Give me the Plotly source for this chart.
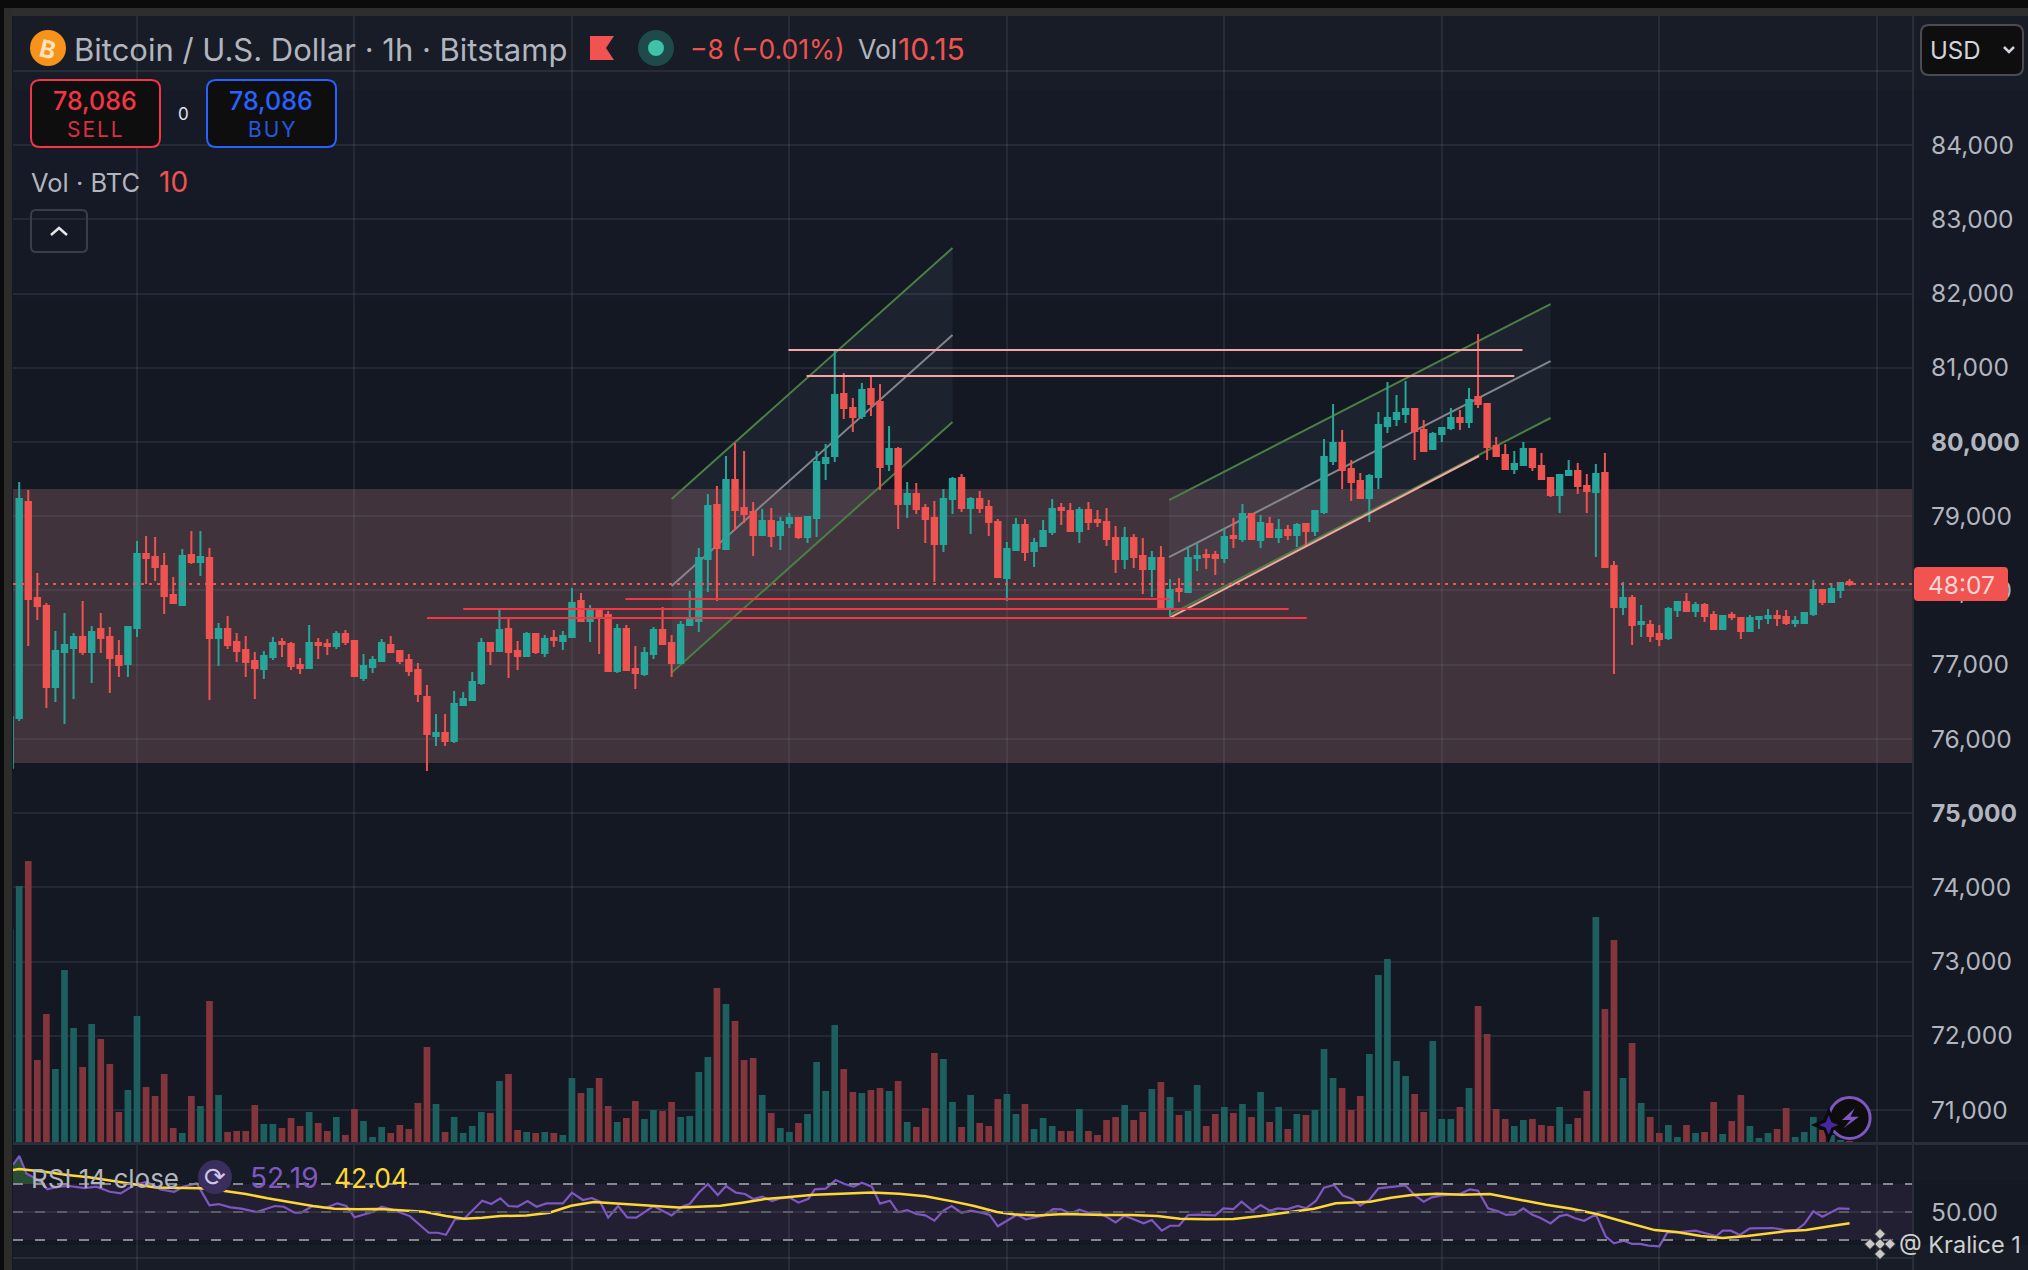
import plotly.graph_objects as go

W = 2028
H = 1270

# hourly candles, first one is cut off by the left edge
bars = list(range(-1, 203))
opens = [
    75612, 76281, 79191, 77898, 77790, 76699, 77170, 77224, 77372, 77170, 77480, 77372, 77117, 77009, 77494,
    78491, 78450, 78329, 77938, 77804, 78477, 78383, 78437, 77359, 77480, 77305, 77197, 77049, 76941, 77103,
    77305, 77278, 76995, 76955, 77292, 77278, 77251, 77413, 77319, 76820, 76968, 77049, 77265, 77184, 77063,
    76928, 76564, 76039, 76079, 75972, 76457, 76524, 76753, 77292, 77184, 77480, 77184, 77117, 77413, 77157,
    77359, 77319, 77373, 77857, 77588, 77723, 77669, 76915, 77480, 76941, 76874, 77144, 77467, 77292, 77022,
    77534, 77588, 78423, 79151, 78558, 79487, 79110, 79056, 78747, 78935, 78747, 78908, 78975, 78720, 78975,
    79716, 79811, 80646, 80457, 80350, 80713, 80538, 79703, 79905, 79164, 79299, 79110, 78976, 78625, 79231,
    79514, 79110, 79231, 79124, 78922, 78167, 78544, 78881, 78531, 78598, 78787, 79110, 79070, 78800, 79083,
    78949, 78922, 78706, 78423, 78706, 78464, 78289, 78437, 77777, 78019, 77979, 78437, 78477, 78477, 78437,
    78733, 78693, 79029, 78679, 78895, 78720, 78814, 78747, 78895, 78800, 79056, 79743, 79986, 79636, 79474,
    79245, 79528, 80215, 80309, 80376, 80444, 80161, 79905, 80107, 80188, 80323, 80269, 80605, 80511, 79945,
    79825, 79636, 79690, 79905, 79676, 79515, 79286, 79555, 79609, 79407, 79326, 79582, 78329, 77777, 77898,
    77548, 77535, 77413, 77360, 77737, 77844, 77723, 77804, 77669, 77481, 77669, 77629, 77454, 77615, 77629,
    77656, 77642, 77562, 77562, 77683, 78006, 77844, 78006, 78114,
]
highs = [
    76295, 79460, 79353, 78235, 77830, 77453, 77696, 77426, 77857, 77521, 77696, 77507, 77332, 77521, 78666,
    78733, 78720, 78504, 78181, 78558, 78800, 78800, 78571, 77561, 77655, 77426, 77386, 77170, 77184, 77372,
    77359, 77305, 77090, 77534, 77359, 77346, 77453, 77467, 77319, 77144, 77117, 77346, 77386, 77197, 77144,
    77022, 76726, 76335, 76335, 76645, 76632, 76901, 77359, 77292, 77750, 77628, 77319, 77440, 77426, 77399,
    77467, 77453, 78033, 77965, 77804, 77736, 77723, 77548, 77534, 77251, 77238, 77507, 77777, 77399, 77588,
    77992, 78571, 79299, 79407, 79811, 79986, 79878, 79191, 79097, 79110, 78989, 79043, 78989, 79002, 79878,
    79972, 81252, 80929, 80592, 80794, 80888, 80780, 80215, 79932, 79460, 79447, 79164, 79205, 79366, 79528,
    79568, 79258, 79339, 79218, 78962, 78652, 78976, 78962, 78706, 78949, 79231, 79178, 79178, 79124, 79191,
    79083, 79110, 78868, 78854, 78760, 78706, 78531, 78598, 78154, 78167, 78598, 78639, 78558, 78531, 78827,
    78976, 79164, 79029, 79016, 78989, 78962, 78881, 78908, 78895, 79083, 80041, 80511, 80161, 79757, 79582,
    79568, 80403, 80807, 80632, 80821, 80444, 80296, 80134, 80201, 80457, 80430, 80727, 81454, 80511, 80067,
    79973, 79878, 80000, 79905, 79851, 79515, 79569, 79757, 79717, 79569, 79703, 79851, 78397, 78114, 77939,
    77804, 77602, 77535, 77777, 77844, 77966, 77844, 77831, 77723, 77669, 77710, 77642, 77669, 77642, 77750,
    77737, 77737, 77656, 77710, 78141, 78006, 78100, 78100, 78154,
]
lows = [
    75612, 76241, 77251, 77601, 76416, 76497, 76201, 76537, 77130, 76753, 77157, 76618, 76834, 76834, 77372,
    78086, 78127, 77682, 77817, 77804, 78356, 78194, 76524, 76982, 77211, 77036, 76834, 76537, 76807, 77063,
    77103, 76928, 76874, 76941, 77076, 77130, 77211, 77265, 76834, 76780, 76888, 77036, 77157, 77009, 76847,
    76497, 75568, 75904, 75904, 75945, 76457, 76524, 76726, 76995, 77184, 76820, 76928, 77117, 77144, 77103,
    77238, 77197, 77373, 77575, 77305, 77144, 76915, 76888, 76928, 76672, 76847, 77076, 77278, 76834, 77022,
    77521, 77440, 77979, 77858, 78558, 78814, 78908, 78464, 78733, 78585, 78544, 78841, 78693, 78639, 78720,
    79487, 79730, 80309, 80134, 80309, 80350, 79353, 79609, 78827, 78976, 79029, 78639, 78114, 78518, 79029,
    79056, 78760, 79043, 78733, 78181, 77858, 78544, 78396, 78316, 78598, 78747, 78881, 78787, 78639, 78814,
    78854, 78598, 78235, 78289, 78302, 77952, 77911, 77777, 77629, 77844, 77979, 78262, 78289, 78208, 78369,
    78571, 78652, 78693, 78571, 78720, 78639, 78679, 78585, 78598, 78733, 79029, 79689, 79366, 79205, 79245,
    78922, 79366, 80120, 80215, 80255, 79757, 79878, 79905, 80000, 80161, 80161, 80188, 80457, 79757, 79797,
    79622, 79569, 79690, 79609, 79488, 79259, 79043, 79555, 79299, 79043, 78451, 78302, 76875, 77669, 77265,
    77373, 77306, 77252, 77333, 77642, 77723, 77642, 77575, 77481, 77481, 77602, 77346, 77440, 77481, 77548,
    77521, 77535, 77508, 77562, 77656, 77804, 77844, 77898, 78060,
]
closes = [
    76295, 79231, 77884, 77790, 76699, 77184, 77265, 77372, 77170, 77440, 77359, 77090, 76995, 77507, 78491,
    78437, 78315, 77925, 77830, 78464, 78383, 78450, 77359, 77480, 77265, 77184, 77036, 76955, 77117, 77292,
    77278, 76982, 76955, 77292, 77265, 77251, 77413, 77305, 76847, 76982, 77063, 77292, 77170, 77049, 76915,
    76605, 76066, 76079, 75972, 76470, 76537, 76766, 77292, 77184, 77467, 77170, 77117, 77413, 77171, 77346,
    77332, 77386, 77831, 77588, 77723, 77642, 76915, 77480, 76928, 76888, 77157, 77467, 77278, 77022, 77534,
    77602, 78437, 79137, 78571, 79487, 79083, 79029, 78747, 78935, 78733, 78922, 78975, 78720, 78989, 79730,
    79784, 80632, 80457, 80336, 80700, 80511, 79663, 79905, 79164, 79299, 79097, 78962, 78625, 79231, 79501,
    79110, 79231, 79110, 78922, 78181, 78558, 78881, 78518, 78639, 78800, 79097, 79083, 78800, 79083, 78922,
    78922, 78693, 78423, 78706, 78450, 78289, 78437, 77777, 78006, 77992, 78437, 78464, 78450, 78437, 78720,
    78706, 79029, 78693, 78908, 78720, 78814, 78747, 78881, 78800, 79070, 79797, 79986, 79622, 79460, 79245,
    79541, 80228, 80323, 80390, 80444, 80147, 79878, 80107, 80188, 80323, 80269, 80565, 80511, 79932, 79811,
    79636, 79703, 79905, 79663, 79501, 79286, 79555, 79609, 79407, 79340, 79569, 78316, 77777, 77898, 77535,
    77575, 77386, 77346, 77750, 77844, 77723, 77804, 77656, 77481, 77656, 77642, 77454, 77629, 77642, 77656,
    77629, 77562, 77589, 77696, 78006, 77844, 78020, 78100, 78087,
]
volumes = [
    639, 768, 843, 246, 384, 219, 516, 342, 225, 354, 309, 234, 90, 156, 378,
    165, 138, 204, 42, 27, 138, 108, 423, 141, 30, 33, 33, 111, 54, 54,
    42, 72, 48, 90, 57, 33, 75, 21, 99, 63, 15, 45, 27, 51, 39,
    117, 285, 114, 30, 75, 27, 48, 90, 87, 183, 204, 36, 30, 27, 30,
    27, 21, 192, 147, 162, 192, 108, 60, 72, 123, 69, 96, 93, 120, 75,
    78, 210, 255, 462, 414, 363, 246, 252, 141, 87, 42, 30, 57, 84, 240,
    153, 351, 219, 150, 147, 156, 162, 153, 183, 60, 45, 102, 267, 249, 120,
    45, 141, 57, 48, 129, 144, 84, 114, 39, 72, 48, 33, 33, 99, 33,
    21, 66, 75, 111, 66, 90, 159, 180, 135, 81, 93, 171, 48, 84, 105,
    87, 114, 75, 150, 60, 105, 39, 84, 81, 96, 279, 192, 162, 96, 138,
    264, 501, 549, 243, 198, 144, 90, 303, 69, 69, 105, 162, 408, 324, 99,
    69, 48, 66, 69, 51, 48, 105, 54, 72, 153, 675, 399, 606, 192, 297,
    117, 75, 27, 51, 15, 51, 27, 30, 120, 24, 63, 141, 48, 12, 27,
    39, 102, 15, 30, 75, 36, 21, 6, 3,
]

rsi_x = [
    -0.7, 0, 0.8, 2.1, 3.1, 4.3, 5.5, 7.2, 8.5, 10, 11.2, 12.7, 14.1, 15.6, 17.1, 18.1, 19.6, 21, 22, 23.3,
    24.5, 26.2, 28.2, 29.2, 30.4, 31.1, 32.4, 33.8, 35.1, 36.1, 37, 39, 40, 41.5, 43.1, 45.2, 46.2, 47.1, 48.1, 49.1,
    51.1, 52.1, 53.1, 54, 55, 56.1, 57.1, 58.2, 60, 61, 62.2, 63.2, 64.1, 65, 66.1, 67.1, 68.1, 70, 72, 73.3,
    74, 75, 76, 77.1, 78, 79.1, 80.1, 81, 82, 83.1, 84, 85, 86, 87.1, 87.8, 89, 90.1, 91.1, 92.1, 93,
    94.1, 95, 96.1, 97, 98, 99, 100, 101, 102, 102.9, 104, 105, 106.2, 107.1, 108, 109.1, 110.1, 111.1, 112.1, 113.1,
    114.1, 115, 116, 117, 118, 119.1, 120.1, 121, 122, 123.1, 124.1, 125, 126.1, 127, 128, 129, 130.1, 132, 132.9, 134,
    134.9, 136.1, 137, 138, 138.9, 139.9, 141.1, 142, 143.1, 144, 145.1, 146.1, 147.1, 148, 149, 150, 150.9, 153, 154, 155,
    155.9, 157, 159, 160.1, 161, 162.1, 163.2, 164.1, 165, 166, 167, 167.9, 169, 170, 170.8, 171.7, 172.7, 174, 175.1, 176,
    177.1, 178, 178.9, 179.8, 181, 181.9, 182.9, 185, 186.1, 187.3, 188, 188.9, 189.9, 191, 193.5, 194.9, 196.1, 197, 198, 199,
    200.8, 202,
]
rsi_values = [
    83.6, 90, 77.6, 72.8, 66.2, 68.1, 68.6, 67.1, 68.1, 64.5, 63.3, 69.3, 71.7, 66.2, 64.5, 68.1, 70.5, 54.8, 55.7, 53.3,
    52.4, 50, 54.3, 53.8, 49.5, 49.5, 54.3, 52.9, 56.2, 54.3, 46.2, 50, 53.8, 51, 47.1, 35.2, 35.2, 33.8, 44.8, 45.2,
    58.1, 55.7, 59.8, 54.3, 53.8, 57.9, 53.8, 56.2, 56.2, 63.8, 58.6, 60, 57.4, 46, 54.3, 46.2, 46, 54.3, 47.6, 54.3,
    55.7, 63.8, 70, 62.1, 68.6, 63.8, 62.9, 59.3, 60.9, 57.9, 59.8, 60.5, 56.7, 59.5, 66.2, 66.7, 72.8, 70, 68.1, 70.9,
    68.1, 56, 58.1, 49.8, 51.4, 48.6, 47.6, 43.8, 51, 54.3, 49.5, 51, 49.5, 47.9, 39.8, 44.3, 48.1, 44.8, 46.2, 47.6,
    52.1, 51.9, 49, 51.7, 49.5, 49.5, 46.2, 42.6, 47.4, 44.3, 41.9, 44.3, 36.7, 40.2, 40.2, 47.9, 48.1, 47.6, 52.6, 52.1,
    57.4, 51, 55, 51, 52.6, 51.9, 54.3, 52.6, 57.9, 67.4, 69.3, 61.7, 59.3, 54.5, 58.6, 66.9, 67.6, 69, 62.1, 57.4,
    60.5, 61.9, 62.9, 66.2, 65.2, 52.6, 50.5, 47.9, 48.3, 52.6, 48.1, 45.7, 41.9, 47.1, 48.1, 45.5, 43.8, 48.3, 32.4, 27.6,
    29.5, 27.2, 27.2, 26, 25.5, 35.5, 35.5, 36.7, 34.8, 32.9, 36.7, 36.7, 33.6, 38.3, 38.6, 37.1, 37.1, 41.4, 50.5, 46.7,
    52.6, 52.19,
]
rsi_ma_x = [
    -0.7, 0, 2.8, 5.3, 7.7, 10.2, 12.7, 15.1, 17.6, 20, 22.5, 25, 27.4, 29.9, 32.4, 34.8, 37.3, 39.8, 42.2, 44.7,
    47.1, 49.1, 51.1, 53.1, 56, 58.5, 60.9, 63.4, 66.8, 69.8, 72.8, 74.9, 77.4, 79.8, 82.3, 84.7, 87.7, 90.7, 94.1, 97.1,
    100, 103, 105.4, 107.9, 109.9, 112.3, 115.3, 119.7, 122.7, 125.6, 128.1, 131, 134, 137, 140.4, 142.9, 145.3, 147.3, 149.1, 151.4,
    153.7, 156.5, 159.2, 162.3, 164.8, 168.5, 171.3, 174.1, 176.8, 180.5, 182.9, 185.6, 188, 190.7, 194.9, 197.2, 200, 202,
]
rsi_ma_values = [
    80, 80.7, 78.8, 76.4, 74.8, 72.1, 69.8, 67.6, 67.1, 66.9, 65.2, 62.9, 59.8, 56.9, 54.3, 52.4, 51.9, 52.1, 51.4, 50.2,
    47.1, 45.2, 46, 47.1, 47.6, 49.5, 54.5, 57.1, 55.7, 54.3, 53.3, 53.8, 54.5, 56.7, 59.3, 60.5, 62.4, 63.1, 64, 63.1,
    61.2, 57.6, 54.3, 50, 48.3, 47.6, 48.6, 47.9, 47.9, 47.1, 45.2, 44.8, 45, 47.1, 50.2, 52.4, 56.2, 56.9, 57.4, 60.2,
    62.1, 63.1, 62.4, 62.9, 59.8, 55.2, 52.4, 48.6, 43.6, 37.1, 35.7, 32.9, 31.4, 32.9, 36.2, 37.1, 40, 42.04,
]

# drawings on the chart, in bars and dollars
zone_top = 79366
zone_bottom = 75675
last_price = 78086

channel_a_x = [72, 103]
channel_a_upper = [79232, 82613]
channel_a_mid = [78060, 81441]
channel_a_lower = [76892, 80269]
channel_b_x = [126.9, 169]
channel_b_upper = [79218, 81858]
channel_b_mid = [78450, 81090]
channel_b_lower = [77669, 80323]
trend_x = [127.1, 161.1]
trend_y = [77642, 79811]

pink_levels = [(81239, 84.9, 165.9), (80888, 86.9, 165)]
red_levels = [(77885, 66.9, 127), (77750, 49, 140.1), (77629, 45, 142.1)]

price_ticks = list(range(71000, 86000, 1000))
price_labels = ["" if p == 85000 else ("<b>%s</b>" % f"{p:,}" if p in (75000, 80000) else f"{p:,}") for p in price_ticks]
grid_bars = [13, 37, 61, 85, 109, 133, 157, 181, 205]

UP = "#26a69a"
DOWN = "#ef5350"
UP_VOL = "#1d5f5e"
DOWN_VOL = "#82353b"
BG = "#131823"
GRID = "rgba(125,130,145,0.16)"
LABEL = "#b2b5be"
SANS = "Inter"


def fx(px):
    return px / W


def fy(py):
    return 1 - py / H


def round_rect(x0, y0, x1, y1, r):
    a, b, c, d = fx(x0), fx(x1), fy(y0), fy(y1)
    rx, ry = r / W, r / H
    return (f"M {a+rx} {c} L {b-rx} {c} Q {b} {c} {b} {c-ry} L {b} {d+ry} Q {b} {d} {b-rx} {d} "
            f"L {a+rx} {d} Q {a} {d} {a} {d+ry} L {a} {c-ry} Q {a} {c} {a+rx} {c} Z")


def poly(points, close=True):
    s = "M " + " L ".join(f"{fx(x)} {fy(y)}" for x, y in points)
    return s + " Z" if close else s


shapes = []
notes = []


def paper_path(path, fill="rgba(0,0,0,0)", line="rgba(0,0,0,0)", width=0, layer="above"):
    shapes.append(dict(type="path", xref="paper", yref="paper", path=path, fillcolor=fill,
                       line=dict(color=line, width=width), layer=layer))


def paper_rect(x0, y0, x1, y1, fill, layer="above"):
    shapes.append(dict(type="rect", xref="paper", yref="paper", x0=fx(x0), x1=fx(x1), y0=fy(y1), y1=fy(y0),
                       fillcolor=fill, line=dict(width=0), layer=layer))


def paper_circle(cx, cy, r, fill, line="rgba(0,0,0,0)", width=0):
    shapes.append(dict(type="circle", xref="paper", yref="paper", x0=fx(cx-r), x1=fx(cx+r), y0=fy(cy+r), y1=fy(cy-r),
                       fillcolor=fill, line=dict(color=line, width=width), layer="above"))


def note(px, py, text, size, color, anchor="left", family=SANS, angle=0, weight=400):
    notes.append(dict(x=fx(px), y=fy(py), xref="paper", yref="paper", text=text, showarrow=False, xanchor=anchor,
                      yanchor="middle", textangle=angle, borderpad=0,
                      font=dict(family=family, size=size, color=color, weight=weight)))


def data_line(x0, x1, y0, y1, color, width, layer="above", yref="y", dash=None, xref="x"):
    shapes.append(dict(type="line", xref=xref, yref=yref, x0=x0, x1=x1, y0=y0, y1=y1, layer=layer,
                       line=dict(color=color, width=width, dash=dash)))


# background shading, the top of the chart is a bit lighter
paper_rect(13, 16, 2028, 90, "#171c27", layer="below")
paper_rect(13, 90, 2028, 200, "#161a26", layer="below")
paper_rect(13, 200, 2028, 300, "#141925", layer="below")
paper_rect(13, 1143, 2028, 1180, "#151a25", layer="below")
paper_rect(13, 1245, 2028, 1270, "#171c27", layer="below")

shapes.append(dict(type="rect", xref="paper", yref="y", x0=fx(13), x1=fx(1913), y0=zone_bottom, y1=zone_top,
                   fillcolor="#40333c", line=dict(width=0), layer="below"))

# channels
for xs, up, mid, lo in [(channel_a_x, channel_a_upper, channel_a_mid, channel_a_lower),
                        (channel_b_x, channel_b_upper, channel_b_mid, channel_b_lower)]:
    shapes.append(dict(type="path", xref="x", yref="y", layer="between", fillcolor="rgba(170,180,200,0.07)",
                       line=dict(width=0),
                       path=f"M {xs[0]} {up[0]} L {xs[1]} {up[1]} L {xs[1]} {lo[1]} L {xs[0]} {lo[0]} Z"))
    data_line(xs[0], xs[1], up[0], up[1], "#4b7f45", 2, layer="between")
    data_line(xs[0], xs[1], lo[0], lo[1], "#4b7f45", 2, layer="between")
    data_line(xs[0], xs[1], mid[0], mid[1], "#85868c", 2, layer="between")
data_line(trend_x[0], trend_x[1], trend_y[0], trend_y[1], "#f0a8a0", 2)

for level, start, end in pink_levels:
    data_line(start, end, level, level, "#f9a5a5", 2)
for level, start, end in red_levels:
    data_line(start, end, level, level, "#f23645", 2)

shapes.append(dict(type="line", xref="paper", yref="y", x0=fx(13), x1=fx(1913), y0=last_price, y1=last_price,
                   layer="above", line=dict(color="#f05350", width=2, dash="3px,5px")))

# rsi band
shapes.append(dict(type="rect", xref="paper", yref="y3", x0=fx(13), x1=fx(1913), y0=30, y1=70,
                   fillcolor="#231f33", line=dict(width=0), layer="below"))
for level, color in [(70, "#86878d"), (50, "#5b5c66"), (30, "#86878d")]:
    shapes.append(dict(type="line", xref="paper", yref="y3", x0=fx(13), x1=fx(1913), y0=level, y1=level,
                       layer="above", line=dict(color=color, width=2, dash="10px,12px")))

# panel separators and the frame of the screenshot
paper_rect(13, 1142, 2028, 1145, "#2a2e39")
paper_rect(1912, 16, 1914, 1270, "#2a2e39")
paper_rect(0, 0, 2028, 8, "#0b0b0b")
paper_rect(0, 8, 2028, 16, "#2e2e2e")
paper_rect(0, 0, 4, 1270, "#0b0b0b")
paper_rect(4, 8, 12, 1270, "#2c2c2a")

# header
paper_circle(48, 48, 18, "#f7931a")
note(48, 49, "<b>B</b>", 24, "#fde3bd", anchor="center", angle=14)
note(73, 49, "Bitcoin / U.S. Dollar · 1h · Bitstamp", 31, LABEL)
paper_path(poly([(590, 36), (614, 36), (606, 48), (614, 60), (590, 60)]), fill="#f05350")
paper_circle(656, 48, 18, "#1e4a4b")
paper_circle(656, 48, 8, "#3ec2a8")
note(689, 49, "−8 (−0.01%)", 26.5, DOWN)
note(857, 49, "Vol", 26.5, LABEL)
note(897, 49, "10.15", 30, DOWN)

paper_path(round_rect(31, 80, 160, 147, 9), fill="#0e0e0f", line="#f23645", width=2)
paper_path(round_rect(207, 80, 336, 147, 9), fill="#0e0e0f", line="#2962ff", width=2)
note(95, 101, "78,086", 25, "#f23645", anchor="center", weight=500)
note(95, 129, "S\u200aE\u200aL\u200aL", 21, "#d9303f", anchor="center")
note(271, 101, "78,086", 25, "#2962ff", anchor="center", weight=500)
note(271, 129, "B\u200aU\u200aY", 21, "#2458e0", anchor="center")
note(183, 114, "0", 17, "#e0e3eb", anchor="center")

note(30, 182, "Vol · BTC", 25.5, LABEL)
note(158, 182, "10", 28, DOWN)
paper_path(round_rect(31, 210, 87, 252, 5), line="#3a3d46", width=2)
paper_path(poly([(51, 235), (59, 228), (67, 235)], close=False), line="#e6e6e6", width=2.5)

paper_path(round_rect(1921, 25, 2023, 75, 8), fill="#0e0e0f", line="#4a4c52", width=2)
note(1929, 50, "USD", 24, "#d1d4dc")
paper_path(poly([(2004, 47), (2009, 52), (2014, 47)], close=False), line="#d1d4dc", width=2.5)

# countdown tag
paper_path(round_rect(1914, 567, 2008, 601, 4), fill="#f05350")
note(1961, 585, "48:07", 24.5, "#f8d6d5", anchor="center")

# rsi legend
note(30, 1178, "RSI 14 close", 26, LABEL)
paper_circle(215, 1177, 17, "#3a2f5c")
note(215, 1177, "⟳", 26, "#cfc4ea", anchor="center", family="DejaVu Sans")
note(249, 1178, "52.19", 28, "#7e57c2")
note(333, 1178, "42.04", 26.5, "#fdd835")

# lightning badge and star
paper_circle(1849.6, 1118, 20.5, "#0d0d0d", line="#7e57c2", width=3)
paper_path(poly([(1854.7, 1108.3), (1842, 1120), (1850.5, 1120), (1843.4, 1128.3), (1859, 1116.7), (1850.5, 1116.7)]),
           fill="#7e57c2")
cx, cy, r, i = 1828.7, 1125, 14, 4
paper_path(poly([(cx, cy-r), (cx+i, cy-i), (cx+r, cy), (cx+i, cy+i), (cx, cy+r), (cx-i, cy+i), (cx-r, cy), (cx-i, cy-i)]),
           fill="#4527a0", line="#0b0b0b", width=3)

# watermark
for dx, dy in [(0, 0), (-10, 0), (10, 0), (0, -10), (0, 10)]:
    cx, cy, r = 1880 + dx, 1244 + dy, 5.5
    paper_path(poly([(cx, cy-r), (cx+r, cy), (cx, cy+r), (cx-r, cy)]), fill="#c8c8c8", line="#2a2a2a", width=1)
note(1898, 1244, "@ Kralice 1", 23.5, "#d0d0d0")

vol_colors = [UP_VOL if c >= o else DOWN_VOL for o, c in zip(opens, closes)]

fig = go.Figure()
fig.add_trace(go.Candlestick(
    x=bars, open=opens, high=highs, low=lows, close=closes, whiskerwidth=0, yaxis="y",
    increasing=dict(line=dict(color=UP, width=2), fillcolor=UP),
    decreasing=dict(line=dict(color=DOWN, width=2), fillcolor=DOWN),
    showlegend=False, hoverinfo="skip"))
fig.add_trace(go.Bar(x=bars, y=volumes, marker=dict(color=vol_colors, line=dict(width=0)), width=0.74,
                     yaxis="y2", showlegend=False, hoverinfo="skip"))
fig.add_trace(go.Scatter(x=[rsi_x[0]] + rsi_x[:4] + [rsi_x[3] + 0.5], y=[70] + rsi_values[:4] + [70], yaxis="y3",
                         mode="lines", line=dict(width=0), fill="toself", fillcolor="rgba(76,175,80,0.35)",
                         showlegend=False, hoverinfo="skip"))
fig.add_trace(go.Scatter(x=rsi_x, y=rsi_values, yaxis="y3", mode="lines", line=dict(color="#7e57c2", width=2.2),
                         showlegend=False, hoverinfo="skip"))
fig.add_trace(go.Scatter(x=rsi_ma_x, y=rsi_ma_values, yaxis="y3", mode="lines", line=dict(color="#fdd835", width=2.5),
                         showlegend=False, hoverinfo="skip"))

tick_font = dict(family=SANS, size=24.5, color=LABEL)
fig.update_layout(
    width=W, height=H, margin=dict(l=0, r=0, t=0, b=0), paper_bgcolor=BG, plot_bgcolor=BG,
    boxmode="overlay", boxgap=0.15, shapes=shapes, annotations=notes, showlegend=False,
    xaxis=dict(domain=[fx(13), fx(1913)], range=[-0.684, 209], rangeslider=dict(visible=False), showticklabels=False,
               tickmode="array", tickvals=grid_bars, showgrid=True, gridcolor=GRID, gridwidth=2, zeroline=False, ticks=""),
    yaxis=dict(domain=[fy(1143), fy(16)], range=[70557, 85738], side="right", tickmode="array", tickvals=price_ticks,
               ticktext=price_labels, tickfont=tick_font, showgrid=True, gridcolor=GRID, gridwidth=2, zeroline=False,
               ticks="", ticklabelstandoff=17),
    yaxis2=dict(domain=[fy(1143), fy(16)], range=[-3, 3378], overlaying="y", side="right", visible=False),
    yaxis3=dict(domain=[0, fy(1143)], range=[8.6, 99.3], side="right", anchor="x", tickmode="array", tickvals=[17, 50],
                ticktext=["", "50.00"], tickfont=tick_font, showgrid=True, gridcolor=GRID, gridwidth=2, zeroline=False,
                ticks="", ticklabelstandoff=17),
)

fig.write_html("out.html", config=dict(displayModeBar=False),
               post_script="document.body.style.margin='0';document.body.style.overflow='hidden';")
